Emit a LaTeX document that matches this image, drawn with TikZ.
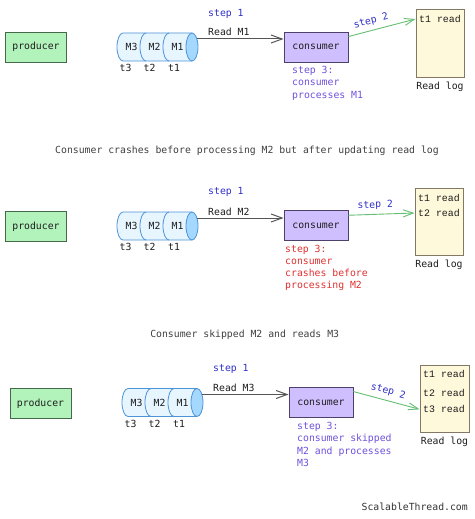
\documentclass[tikz,border=0pt]{standalone}
\usepackage{fontspec}
\setmonofont{DejaVu Sans Mono}
\newfontfamily\logfont{Liberation Mono}
\usepackage{tikz}
\usetikzlibrary{arrows.meta,positioning}
\usepackage{xcolor}
\definecolor{prodfill}{RGB}{178,242,187}
\definecolor{proddraw}{RGB}{70,105,75}
\definecolor{consfill}{RGB}{208,191,255}
\definecolor{consdraw}{RGB}{75,65,105}
\definecolor{logfill}{RGB}{255,249,219}
\definecolor{logdraw}{RGB}{130,120,100}
\definecolor{qfill}{RGB}{231,245,255}
\definecolor{qcap}{RGB}{165,216,255}
\definecolor{qdraw}{RGB}{77,148,214}
\definecolor{stepblue}{RGB}{48,48,200}
\definecolor{notepurple}{RGB}{112,82,222}
\definecolor{notered}{RGB}{224,49,49}
\definecolor{writegreen}{RGB}{100,190,115}
\definecolor{inkgray}{RGB}{30,30,30}
\definecolor{edgegray}{RGB}{85,85,85}
\newcommand{\diagfont}{\ttfamily\fontsize{9.8}{12.3}\selectfont}
\tikzset{
  plain/.style={inner sep=0pt,font=\diagfont,text=inkgray},
  actor/.style={draw,line width=0.9pt,minimum width=61pt,minimum height=30pt,inner sep=0pt,
    font=\diagfont,text=inkgray},
  prodbox/.style={actor,draw=proddraw,fill=prodfill},
  consbox/.style={actor,draw=consdraw,fill=consfill,minimum width=64pt},
  logbox/.style={draw=logdraw,fill=logfill,line width=0.9pt,minimum width=48pt,minimum height=68pt,inner sep=0pt},
  entry/.style={inner sep=0pt,anchor=west,font=\logfont\fontsize{9.9}{12}\selectfont,text=inkgray},
  steplbl/.style={plain,text=stepblue},
  note/.style={plain,align=left,anchor=north west},
  readedge/.style={-{Straight Barb[length=11pt,width=8pt]},line width=1pt,draw=edgegray},
  writeedge/.style={-{Straight Barb[length=10pt,width=7pt]},line width=0.9pt,draw=writegreen},
  qline/.style={draw=qdraw,line width=0.8pt},
  msgqueue/.pic={
    \filldraw[qline,fill=qfill] (0,-14) -- (69,-14) -- (69,14) -- (0,14)
      arc[start angle=90,end angle=270,x radius=6,y radius=14] -- cycle;
    \draw[qline] (23,14) arc[start angle=90,end angle=270,x radius=6,y radius=14];
    \draw[qline] (46,14) arc[start angle=90,end angle=270,x radius=6,y radius=14];
    \filldraw[qline,fill=qcap] (69,0) ellipse[x radius=6,y radius=14];
    \node[plain] (-m3) at (8.5,0) {M3};
    \node[plain] (-m2) at (31.5,0) {M2};
    \node[plain] (-m1) at (54.5,0) {M1};
    \node[plain] (-t3) at (2.5,21) {t3};
    \node[plain] (-t2) at (26.5,21) {t2};
    \node[plain] (-t1) at (51,21) {t1};
    \coordinate (-out) at (74,-8);
  }
}

\begin{document}
\begin{tikzpicture}[x=1pt,y=-1pt]
  \fill[white] (0,0) rectangle (474,519);
  \useasboundingbox (0,0) rectangle (474,519);
  % normal read
  \node[prodbox] (prod1) at (36,47) {producer};
  \pic (q1) at (123,47) {msgqueue};
  \node[consbox] (cons1) at (316,47) {consumer};
  \node[logbox] (log1) at (440,43) {};
  \node[entry] (ent1a) at (419,19) {t1 read};
  \node[plain,below=4pt of log1] (logl1) {Read log};
  \node[steplbl,anchor=west] (st1) at (208,14) {step 1};
  \node[plain,anchor=west] (rd1) at (208,32) {Read M1};
  \node[note,text=notepurple] (note1) at (292,66) {step 3:\\consumer\\processes M1};
  \draw[readedge] (q1-out) -- (q1-out -| cons1.west);
  \draw[writeedge] ([yshift=-5pt]cons1.north east) -- node[steplbl,sloped,above=4pt,pos=0.37]{step 2} (log1.west |- ent1a);
  \node[plain,text=black!75] (cap1) at (247,151) {Consumer crashes before processing M2 but after updating read log};
  % crash after log update
  \node[prodbox] (prod2) at (36,226.4) {producer};
  \pic (q2) at (123,226) {msgqueue};
  \node[consbox] (cons2) at (316,225.7) {consumer};
  \node[logbox,minimum height=67pt] (log2) at (439,221.5) {};
  \node[entry] (ent2a) at (418,198) {t1 read};
  \node[entry] (ent2b) at (418,213) {t2 read};
  \node[plain,below=4pt of log2] (logl2) {Read log};
  \node[steplbl,anchor=west] (st2) at (208,192) {step 1};
  \node[plain,anchor=west] (rd2) at (208,211.7) {Read M2};
  \node[note,text=notered] (note2) at (285,244.6) {step 3:\\consumer\\crashes before\\processing M2};
  \draw[readedge] (q2-out) -- (q2-out -| cons2.west);
  \draw[writeedge] ([yshift=-5pt]cons2.north east) -- node[steplbl,sloped,above=4pt,pos=0.41]{step 2} (log2.west |- ent2b);
  \node[plain,text=black!75] (cap2) at (244.7,335) {Consumer skipped M2 and reads M3};
  % restart skips M2
  \node[prodbox] (prod3) at (40.5,403.3) {producer};
  \pic (q3) at (128,402.5) {msgqueue};
  \node[consbox] (cons3) at (321,402.7) {consumer};
  \node[logbox,minimum width=49pt,minimum height=67pt] (log3) at (444.5,398.5) {};
  \node[entry] (ent3a) at (423,374.3) {t1 read};
  \node[entry] (ent3b) at (423,392.7) {t2 read};
  \node[entry] (ent3c) at (423,409.3) {t3 read};
  \node[plain,below=4pt of log3] (logl3) {Read log};
  \node[steplbl,anchor=west] (st3) at (213,369) {step 1};
  \node[plain,anchor=west] (rd3) at (213,388) {Read M3};
  \node[note,text=notepurple] (note3) at (297,422) {step 3:\\consumer skipped\\M2 and processes\\M3};
  \draw[readedge] (q3-out) -- (q3-out -| cons3.west);
  \draw[writeedge] ([yshift=-4.3pt]cons3.north east) -- node[steplbl,sloped,above=4pt,pos=0.49]{step 2} (log3.west |- ent3c);
  \node[plain,text=black!80,anchor=east] (brand) at (468,507) {ScalableThread.com};
\end{tikzpicture}
\end{document}
